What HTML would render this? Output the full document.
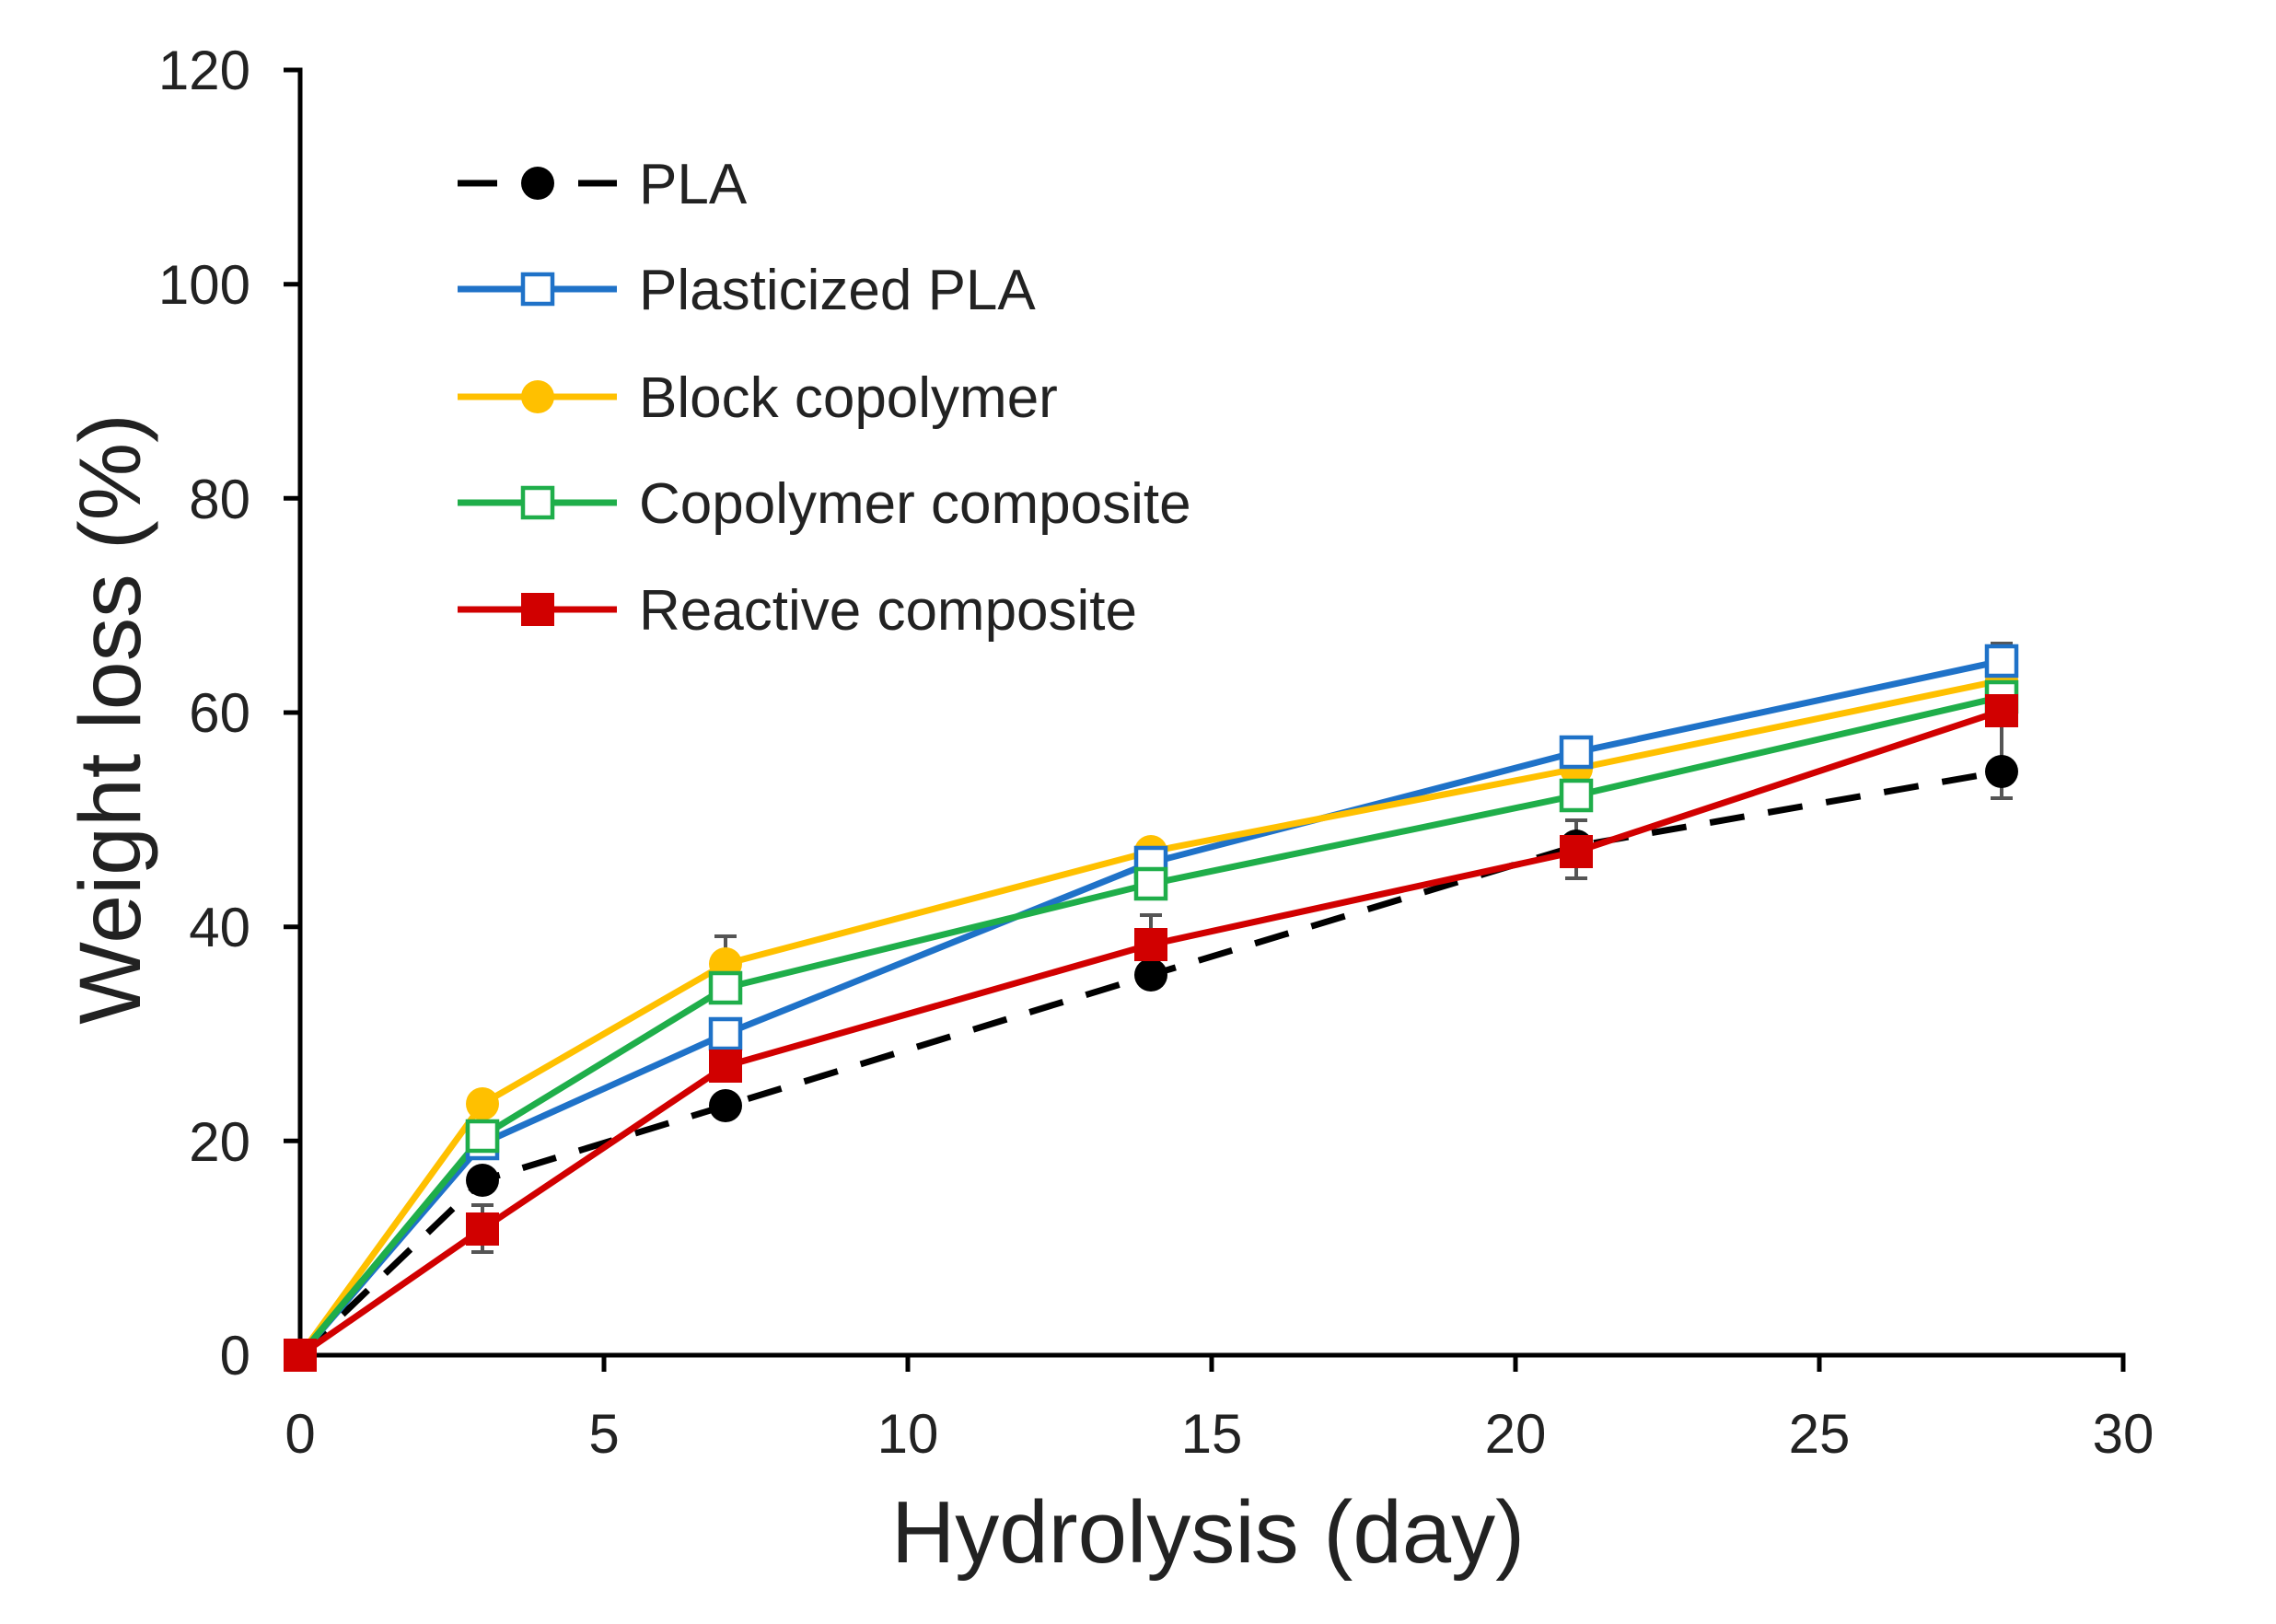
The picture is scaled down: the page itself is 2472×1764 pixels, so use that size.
<!DOCTYPE html>
<html><head><meta charset="utf-8"><style>html,body{margin:0;padding:0;background:#fff}svg{display:block}</style></head>
<body>
<svg width="2472" height="1764" viewBox="0 0 2472 1764" xmlns="http://www.w3.org/2000/svg" font-family="Liberation Sans, sans-serif">
<rect width="2472" height="1764" fill="#fff"/>
<g stroke="#000" stroke-width="5" fill="none">
<path d="M308 76 H326 V1472 H2306 V1490"/>
<path d="M308 308.7H326 M308 541.3H326 M308 774H326 M308 1006.7H326 M308 1239.3H326"/>
<path d="M326 1472V1490 M656 1472V1490 M986 1472V1490 M1316 1472V1490 M1646 1472V1490 M1976 1472V1490"/>
</g>
<g font-size="60" fill="#222" text-anchor="end">
<text x="272" y="97">120</text><text x="272" y="330">100</text><text x="272" y="563">80</text>
<text x="272" y="795">60</text><text x="272" y="1028">40</text><text x="272" y="1261">20</text><text x="272" y="1493">0</text>
</g>
<g font-size="60" fill="#222" text-anchor="middle">
<text x="326" y="1578">0</text><text x="656" y="1578">5</text><text x="986" y="1578">10</text>
<text x="1316" y="1578">15</text><text x="1646" y="1578">20</text><text x="1976" y="1578">25</text><text x="2306" y="1578">30</text>
</g>
<text x="1312" y="1697" font-size="96" fill="#222" text-anchor="middle">Hydrolysis (day)</text>
<text transform="translate(152 781) rotate(-90)" font-size="95" fill="#222" text-anchor="middle">Weight loss (%)</text>

<g stroke="#555" stroke-width="4" fill="none">
<path d="M524 1309V1360 M512 1309H536 M512 1360H536"/>
<path d="M788 1017V1050 M776 1017H800"/>
<path d="M1250 994V1030 M1238 994H1262"/>
<path d="M1712 891V954 M1700 891H1724 M1700 954H1724"/>
<path d="M2174 699V720 M2162 699H2186 M2174 790V867 M2162 867H2186"/>
</g>

<g fill="none" stroke-width="7" stroke-linejoin="round">
<polyline stroke="#000" stroke-dasharray="38 26" points="326,1472 524,1282 788,1201 1250,1059 1712,919 2174,838"/>
<polyline stroke="#1f72c8" points="326,1472 524,1242 788,1123 1250,937 1712,817 2174,718"/>
<polyline stroke="#ffc000" points="326,1472 524,1199 788,1047 1250,925 1712,835 2174,739"/>
<polyline stroke="#1fae4a" points="326,1472 524,1234 788,1073 1250,960 1712,864 2174,757"/>
<polyline stroke="#d10000" points="326,1472 524,1335 788,1158 1250,1026 1712,925 2174,772"/>
</g>
<g fill="#000"><circle cx="524" cy="1282" r="18"/><circle cx="788" cy="1201" r="18"/><circle cx="1250" cy="1059" r="18"/><circle cx="1712" cy="919" r="18"/><circle cx="2174" cy="838" r="18"/></g>
<g fill="#ffc000"><circle cx="524" cy="1199" r="18"/><circle cx="788" cy="1047" r="18"/><circle cx="1250" cy="925" r="18"/><circle cx="1712" cy="835" r="18"/><circle cx="2174" cy="739" r="18"/></g>
<g fill="#fff" stroke="#1f72c8" stroke-width="4.5"><rect x="508" y="1226" width="32" height="32"/><rect x="772" y="1107" width="32" height="32"/><rect x="1234" y="921" width="32" height="32"/><rect x="1696" y="801" width="32" height="32"/><rect x="2158" y="702" width="32" height="32"/></g>
<g fill="#fff" stroke="#1fae4a" stroke-width="4.5"><rect x="508" y="1218" width="32" height="32"/><rect x="772" y="1057" width="32" height="32"/><rect x="1234" y="944" width="32" height="32"/><rect x="1696" y="848" width="32" height="32"/><rect x="2158" y="741" width="32" height="32"/></g>
<g fill="#d10000"><rect x="308" y="1454" width="36" height="36"/><rect x="506" y="1317" width="36" height="36"/><rect x="770" y="1140" width="36" height="36"/><rect x="1232" y="1008" width="36" height="36"/><rect x="1694" y="907" width="36" height="36"/><rect x="2156" y="754" width="36" height="36"/></g>

<g stroke-width="7" fill="none">
<path d="M497 199H540 M628 199H670" stroke="#000"/>
<path d="M497 314H670" stroke="#1f72c8"/>
<path d="M497 431H670" stroke="#ffc000"/>
<path d="M497 546H670" stroke="#1fae4a"/>
<path d="M497 662H670" stroke="#d10000"/>
</g>
<circle cx="584" cy="199" r="18" fill="#000"/>
<rect x="568" y="298" width="32" height="32" fill="#fff" stroke="#1f72c8" stroke-width="4.5"/>
<circle cx="584" cy="431" r="18" fill="#ffc000"/>
<rect x="568" y="530" width="32" height="32" fill="#fff" stroke="#1fae4a" stroke-width="4.5"/>
<rect x="566" y="644" width="36" height="36" fill="#d10000"/>
<g font-size="62" fill="#222">
<text x="694" y="221">PLA</text>
<text x="694" y="336">Plasticized PLA</text>
<text x="694" y="453">Block copolymer</text>
<text x="694" y="568">Copolymer composite</text>
<text x="694" y="684">Reactive composite</text>
</g>
</svg>
</body></html>
